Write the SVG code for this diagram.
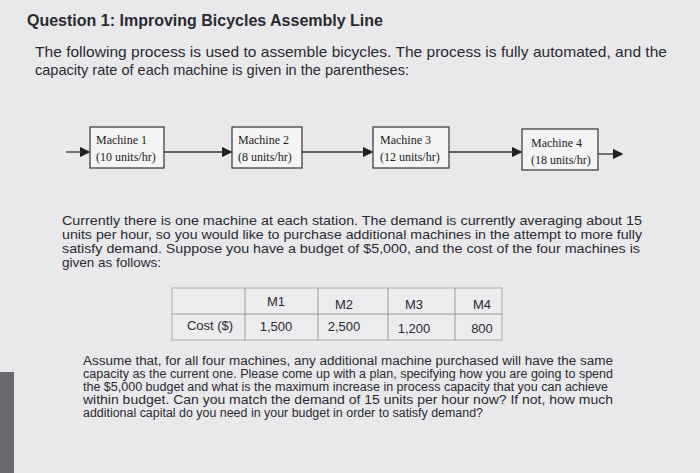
<svg xmlns="http://www.w3.org/2000/svg" width="700" height="473" viewBox="0 0 700 473">
<style>
.t{font-family:"Liberation Sans",Arial,sans-serif;fill:#2a2a30}
.m{font-family:"Liberation Serif","Times New Roman",serif;font-size:12px;fill:#222}
.box{fill:#f4f4f4;stroke:#333;stroke-width:1.2}
.ln{stroke:#333;stroke-width:1.3;fill:none}
.tb{fill:none;stroke:#999;stroke-width:1}
</style>
<defs><marker id="a" markerWidth="8" markerHeight="8" refX="7" refY="4" orient="auto"><path d="M0,0L8,4L0,8z" fill="#222"/></marker></defs>
<rect width="700" height="473" fill="#e9e9ec"/>
<rect x="0" y="372" width="14" height="101" fill="#6a6a70"/>
<text class="t" x="27" y="26" font-size="16" font-weight="bold">Question 1: Improving Bicycles Assembly Line</text>
<text class="t" x="35" y="57" font-size="15" textLength="632" lengthAdjust="spacingAndGlyphs">The following process is used to assemble bicycles. The process is fully automated, and the</text>
<text class="t" x="35" y="75" font-size="15" textLength="374" lengthAdjust="spacingAndGlyphs">capacity rate of each machine is given in the parentheses:</text>
<g id="m1"><rect class="box" x="90" y="127" width="74" height="41"/><text class="m" x="96" y="144">Machine 1</text><text class="m" x="96" y="161">(10 units/hr)</text></g>
<g id="m2"><rect class="box" x="232" y="127" width="70" height="41"/><text class="m" x="238" y="144">Machine 2</text><text class="m" x="238" y="161">(8 units/hr)</text></g>
<g id="m3"><rect class="box" x="373" y="127" width="76" height="41"/><text class="m" x="380" y="144">Machine 3</text><text class="m" x="380" y="161">(12 units/hr)</text></g>
<g id="m4"><rect class="box" x="522" y="129" width="76" height="41"/><text class="m" x="531" y="147">Machine 4</text><text class="m" x="531" y="164">(18 units/hr)</text></g>
<g id="conn">
<line class="ln" x1="66" y1="152" x2="89" y2="152" marker-end="url(#a)"/>
<line class="ln" x1="164" y1="152" x2="231" y2="152" marker-end="url(#a)"/>
<line class="ln" x1="302" y1="152" x2="372" y2="152" marker-end="url(#a)"/>
<line class="ln" x1="449" y1="152" x2="521" y2="152" marker-end="url(#a)"/>
<line class="ln" x1="598" y1="154" x2="622" y2="154" marker-end="url(#a)"/>
</g>
<g class="t" font-size="13.5">
<text x="62" y="225" textLength="580" lengthAdjust="spacingAndGlyphs">Currently there is one machine at each station. The demand is currently averaging about 15</text>
<text x="62" y="239" textLength="580" lengthAdjust="spacingAndGlyphs">units per hour, so you would like to purchase additional machines in the attempt to more fully</text>
<text x="62" y="253" textLength="578" lengthAdjust="spacingAndGlyphs">satisfy demand.  Suppose you have a budget of $5,000, and the cost of the four machines is</text>
<text x="62" y="267">given as follows:</text>
</g>
<g id="table">
<rect x="172" y="288" width="330" height="52" fill="#ececee" stroke="#aaa"/>
<line class="tb" x1="172" y1="314" x2="502" y2="314"/>
<line class="tb" x1="245" y1="288" x2="245" y2="340"/>
<line class="tb" x1="318" y1="288" x2="318" y2="340"/>
<line class="tb" x1="388" y1="288" x2="388" y2="340"/>
<line class="tb" x1="455" y1="288" x2="455" y2="340"/>
<g class="t" font-size="13" text-anchor="middle">
<text x="276" y="306">M1</text><text x="344" y="309">M2</text><text x="414" y="309">M3</text><text x="482" y="309">M4</text>
<text x="210" y="330">Cost ($)</text><text x="276" y="331">1,500</text><text x="344" y="331">2,500</text><text x="414" y="333">1,200</text><text x="482" y="333">800</text>
</g></g>
<g class="t" font-size="12.5">
<text x="83" y="365" textLength="530" lengthAdjust="spacingAndGlyphs">Assume that, for all four machines, any additional machine purchased will have the same</text>
<text x="83" y="378" textLength="530" lengthAdjust="spacingAndGlyphs">capacity as the current one. Please come up with a plan, specifying how you are going to spend</text>
<text x="83" y="391" textLength="525" lengthAdjust="spacingAndGlyphs">the $5,000 budget and what is the maximum increase in process capacity that you can achieve</text>
<text x="83" y="404" textLength="530" lengthAdjust="spacingAndGlyphs">within budget.   Can you match the demand of 15 units per hour now?   If not, how much</text>
<text x="83" y="417" textLength="400" lengthAdjust="spacingAndGlyphs">additional capital do you need in your budget in order to satisfy demand?</text>
</g>
</svg>
